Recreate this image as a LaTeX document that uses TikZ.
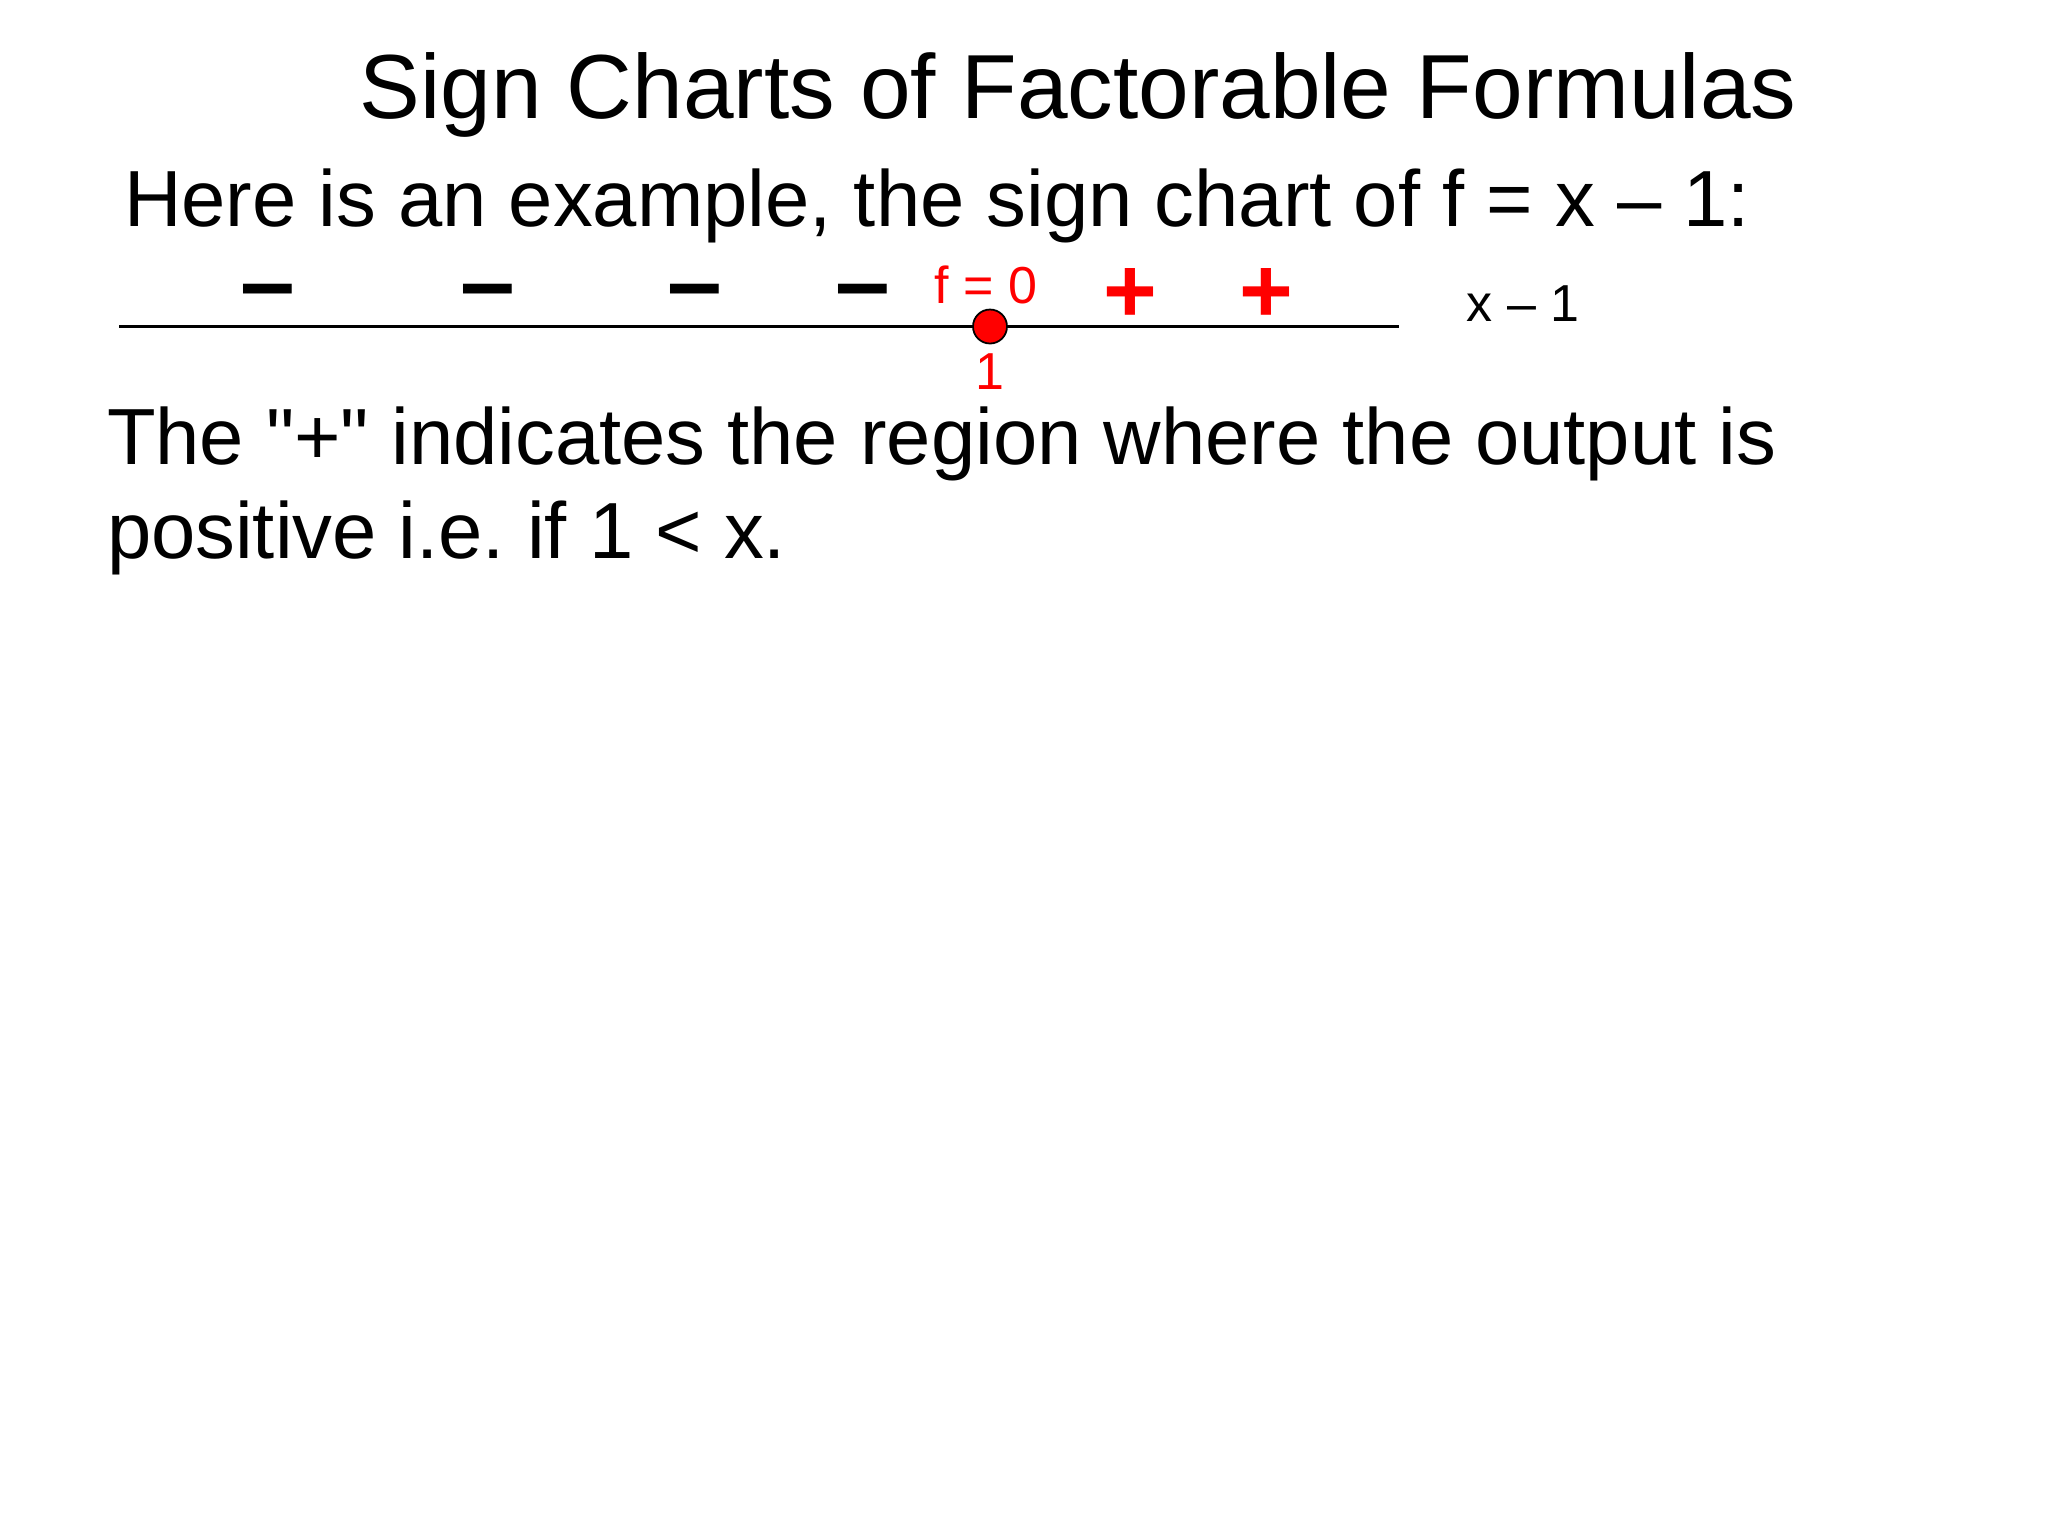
\documentclass[tikz,border=0pt]{standalone}
\usepackage{fontspec}
\setmainfont{Liberation Sans}[Ligatures=TeXOff]
\begin{document}
\begin{tikzpicture}[x={(0.1mm,0)},y={(0,-0.1mm)},
  txt/.style={inner sep=0pt,outer sep=0pt,anchor=base west},
  big/.style={font=\fontsize{22.65pt}{27pt}\selectfont\frenchspacing},
  small/.style={inner sep=0pt,font=\fontsize{14.8pt}{17pt}\selectfont},
  sgn/.style={inner sep=0pt,anchor=base,font=\fontsize{28pt}{32pt}\selectfont\bfseries},
  psgn/.style={inner sep=0pt,anchor=base,font=\fontsize{26.2pt}{30pt}\selectfont\bfseries},
  axisline/.style={line width=0.75pt,black},
  zerodot/.style={circle,fill=red,draw=black,line width=0.5pt,minimum size=34*0.1mm,inner sep=0pt}]
\useasboundingbox (0,0) rectangle (2048,1536);
\fill[white] (0,0) rectangle (2048,1536);
\node[inner sep=0pt,anchor=base,font=\fontsize{25.9pt}{30pt}\selectfont] (title) at (1078,118) {Sign Charts of Factorable Formulas};
\node[txt,big] (intro) at (124,226) {Here is an example, the sign chart of f = x – 1:};
\coordinate (L) at (119,326.5);
\coordinate (R) at (1399,326.5);
\draw[axisline] (L) -- (R);
\node[zerodot] (dot) at (990,326.5) {};
\node[small,anchor=base,text=red] (one) at (990,389) {1};
\node[small,anchor=base,text=red] (fz) at (986,303) {f = 0};
\node[small,anchor=base] (fac) at (1523,321) {x – 1};
\node[sgn] (m1) at (268,315) {–};
\node[sgn] (m2) at (488,315) {–};
\node[sgn] (m3) at (695,315) {–};
\node[sgn] (m4) at (863,315) {–};
\node[psgn,text=red] (p1) at (1130,322) {+};
\node[psgn,text=red] (p2) at (1266,322) {+};
\node[txt,big] (body1) at (107,464) {The "+" indicates the region where the output is};
\node[txt,big] (body2) at (107,558) {positive i.e. if 1 < x.};
\end{tikzpicture}
\end{document}
